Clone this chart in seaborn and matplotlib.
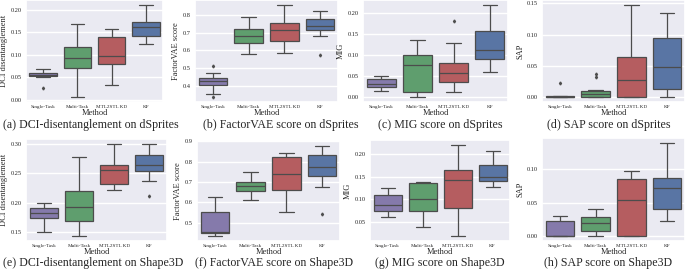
import seaborn as sns
import matplotlib.pyplot as plt
import pandas as pd
from matplotlib.ticker import MultipleLocator

methods = ['Single-Task', 'Multi-Task', 'MTL2STL KD', 'KF']

# scores per method (9 runs each)
dci_dsprites = {
    'Single-Task': [0.025, 0.051, 0.0525, 0.054, 0.056, 0.058, 0.0595, 0.063, 0.069],
    'Multi-Task': [0.005, 0.040, 0.071, 0.083, 0.092, 0.104, 0.118, 0.140, 0.168],
    'MTL2STL KD': [0.033, 0.060, 0.080, 0.089, 0.097, 0.120, 0.140, 0.150, 0.158],
    'KF': [0.125, 0.133, 0.141, 0.152, 0.163, 0.168, 0.173, 0.190, 0.212],
}
fvae_dsprites = {
    'Single-Task': [0.333, 0.354, 0.402, 0.415, 0.425, 0.435, 0.443, 0.470, 0.510],
    'Multi-Task': [0.578, 0.610, 0.643, 0.665, 0.683, 0.700, 0.722, 0.750, 0.790],
    'MTL2STL KD': [0.583, 0.620, 0.652, 0.690, 0.716, 0.735, 0.755, 0.800, 0.858],
    'KF': [0.575, 0.683, 0.715, 0.725, 0.737, 0.760, 0.778, 0.800, 0.820],
}
mig_dsprites = {
    'Single-Task': [0.015, 0.020, 0.025, 0.029, 0.032, 0.038, 0.044, 0.047, 0.050],
    'Multi-Task': [0.000, 0.006, 0.013, 0.050, 0.076, 0.090, 0.101, 0.120, 0.137],
    'MTL2STL KD': [0.012, 0.025, 0.036, 0.047, 0.057, 0.070, 0.082, 0.130, 0.181],
    'KF': [0.059, 0.075, 0.090, 0.100, 0.113, 0.135, 0.158, 0.190, 0.220],
}
sap_dsprites = {
    'Single-Task': [0.000, 0.000, 0.0003, 0.0007, 0.001, 0.0015, 0.002, 0.0025, 0.023],
    'Multi-Task': [0.000, 0.0005, 0.001, 0.001, 0.003, 0.004, 0.005, 0.007, 0.009,
                   0.010, 0.011, 0.033, 0.037],
    'MTL2STL KD': [0.000, 0.000, 0.000, 0.010, 0.027, 0.045, 0.064, 0.100, 0.148],
    'KF': [0.000, 0.005, 0.013, 0.030, 0.049, 0.070, 0.095, 0.115, 0.134],
}
dci_shape3d = {
    'Single-Task': [0.150, 0.165, 0.174, 0.178, 0.182, 0.187, 0.191, 0.196, 0.200],
    'Multi-Task': [0.143, 0.155, 0.169, 0.180, 0.192, 0.205, 0.220, 0.250, 0.278],
    'MTL2STL KD': [0.222, 0.226, 0.231, 0.245, 0.256, 0.260, 0.264, 0.280, 0.300],
    'KF': [0.211, 0.236, 0.254, 0.259, 0.264, 0.272, 0.281, 0.290, 0.299],
}
fvae_shape3d = {
    'Single-Task': [0.432, 0.440, 0.449, 0.452, 0.455, 0.500, 0.553, 0.590, 0.628],
    'Multi-Task': [0.613, 0.635, 0.657, 0.670, 0.680, 0.690, 0.700, 0.725, 0.750],
    'MTL2STL KD': [0.553, 0.610, 0.660, 0.700, 0.740, 0.780, 0.822, 0.835, 0.843],
    'KF': [0.545, 0.675, 0.731, 0.755, 0.776, 0.800, 0.831, 0.860, 0.880],
}
mig_shape3d = {
    'Single-Task': [0.061, 0.067, 0.073, 0.080, 0.087, 0.098, 0.109, 0.116, 0.124],
    'Multi-Task': [0.037, 0.055, 0.074, 0.088, 0.100, 0.118, 0.135, 0.137, 0.138],
    'MTL2STL KD': [0.017, 0.050, 0.081, 0.115, 0.143, 0.155, 0.165, 0.195, 0.221],
    'KF': [0.127, 0.133, 0.140, 0.145, 0.149, 0.160, 0.175, 0.190, 0.206],
}
sap_shape3d = {
    'Single-Task': [0.000, 0.000, 0.000, 0.000, 0.000, 0.010, 0.022, 0.026, 0.030],
    'Multi-Task': [0.000, 0.004, 0.008, 0.014, 0.020, 0.024, 0.028, 0.034, 0.040],
    'MTL2STL KD': [0.000, 0.000, 0.000, 0.030, 0.054, 0.070, 0.085, 0.091, 0.097],
    'KF': [0.023, 0.031, 0.040, 0.055, 0.071, 0.079, 0.087, 0.115, 0.139],
}

panels = [
    (dci_dsprites, 'DCI disentanglement', 0.05, '(a) DCI-disentanglement on dSprites'),
    (fvae_dsprites, 'FactorVAE score', 0.1, '(b) FactorVAE score on dSprites'),
    (mig_dsprites, 'MIG', 0.05, '(c) MIG score on dSprites'),
    (sap_dsprites, 'SAP', 0.05, '(d) SAP score on dSprites'),
    (dci_shape3d, 'DCI disentanglement', 0.05, '(e) DCI-disentanglement on Shape3D'),
    (fvae_shape3d, 'FactorVAE score', 0.1, '(f) FactorVAE score on Shape3D'),
    (mig_shape3d, 'MIG', 0.05, '(g) MIG score on Shape3D'),
    (sap_shape3d, 'SAP', 0.05, '(h) SAP score on Shape3D'),
]

sns.set_theme(style='darkgrid')
plt.rcParams['font.family'] = ['Liberation Serif', 'DejaVu Serif']

deep = sns.color_palette('deep')
palette = [deep[4], deep[2], deep[3], deep[0]]

W, H = 685, 271
fig = plt.figure(figsize=(W / 100, H / 100), dpi=100)

# axes boxes in pixels: (left, right, top, bottom), caption centre (x, y)
boxes = [
    (26, 163, 0, 102), (195, 338, 0, 102), (363, 508, 0, 102), (542, 685, 0, 102),
    (26, 167, 139, 241), (197, 340, 141, 241), (370, 510, 140, 241), (542, 685, 138, 241),
]
captions = [(91, 125), (281, 125), (440, 125), (609, 125),
            (93, 263), (274, 263), (440, 263), (608, 263)]

for i, (data, ylabel, step, caption) in enumerate(panels):
    x0, x1, y0, y1 = boxes[i]
    ax = fig.add_axes([x0 / W, 1 - y1 / H, (x1 - x0) / W, (y1 - y0) / H])

    df = pd.DataFrame([(m, v) for m in methods for v in data[m]],
                      columns=['Method', 'score'])
    sns.boxplot(data=df, x='Method', y='score', hue='Method', order=methods,
                hue_order=methods, palette=palette, legend=False, ax=ax,
                linewidth=0.9, width=0.8,
                flierprops=dict(marker='d', markersize=1.5))

    ax.yaxis.set_major_locator(MultipleLocator(step))
    ax.set_ylabel(ylabel, fontsize=6, labelpad=2)
    ax.set_xlabel('Method', fontsize=6, labelpad=0)
    ax.tick_params(axis='x', labelsize=3.7, pad=2.5, length=0)
    ax.tick_params(axis='y', labelsize=4.6, pad=3, length=0)

    cx, cy = captions[i]
    fig.text(cx / W, 1 - cy / H, caption, ha='center', va='center', fontsize=8.6)

fig.savefig('out.png', dpi=100)
